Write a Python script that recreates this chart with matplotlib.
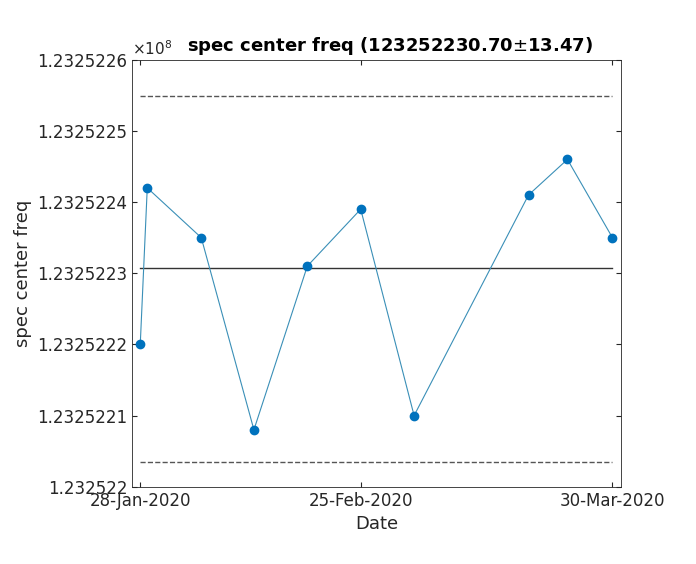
import numpy as np
import matplotlib.pyplot as plt
import datetime as dt

start = dt.datetime(2020, 1, 28)
# days after 28-Jan-2020 (fractional, measurements not at midnight)
day_offsets = [0.0, 0.92, 8.0, 14.9, 21.9, 28.9, 35.9, 50.9, 56.0, 61.9]
freq = [123252220.0, 123252242.0, 123252235.0, 123252208.0, 123252231.0,
        123252239.0, 123252210.0, 123252241.0, 123252246.0, 123252235.0]
mean_val = 123252230.7
upper = 123252254.9
lower = 123252203.5
yticks = [123252200, 123252210, 123252220, 123252230, 123252240, 123252250, 123252260]
ylabels = ["1.232522", "1.2325221", "1.2325222", "1.2325223", "1.2325224", "1.2325225", "1.2325226"]
xlabels = ["28-Jan-2020", "25-Feb-2020", "30-Mar-2020"]

dates = [start + dt.timedelta(days=d) for d in day_offsets]

fig = plt.figure(figsize=(6.96, 5.64), dpi=100)
ax = fig.add_axes([0.19, 0.137, 0.702, 0.757])

ends = [dates[0], dates[-1]]
ax.plot(ends, [upper, upper], '--', color='#555555', lw=1)
ax.plot(ends, [lower, lower], '--', color='#555555', lw=1)
ax.plot(ends, [mean_val, mean_val], '-', color='#333333', lw=1)
ax.plot(dates, freq, '-', color='#3a8fb7', lw=0.8)
ax.plot(dates, freq, 'o', color='#0072bd', ms=6)

ax.set_xlim(start - dt.timedelta(days=1.05), start + dt.timedelta(days=63.0))
ax.set_ylim(123252200, 123252260)
ax.set_yticks(yticks)
ax.set_yticklabels(ylabels)
ax.set_xticks([dates[0], dates[5], dates[9]])
ax.set_xticklabels(xlabels)
ax.tick_params(direction='in', labelsize=12, colors='#262626', top=True, right=True)
for s in ax.spines.values():
    s.set_color('#262626')
    s.set_linewidth(0.6)
ax.set_xlabel("Date", fontsize=13, color='#262626')
ax.set_ylabel("spec center freq", fontsize=13, color='#262626')
ax.set_title("spec center freq (123252230.70$\\pm$13.47)", fontsize=13, fontweight='bold', x=0.527)
ax.text(0.0, 1.005, r"$\times10^8$", transform=ax.transAxes, fontsize=11, color='#262626', va='bottom')

fig.savefig("out.png")
